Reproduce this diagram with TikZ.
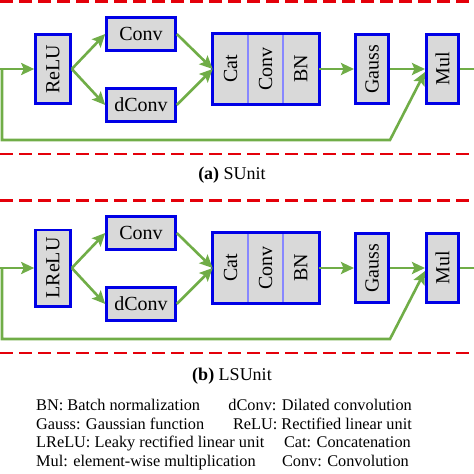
\documentclass[tikz,border=0pt]{standalone}
\usepackage{fontspec}
\setmainfont{Liberation Serif}
\usetikzlibrary{arrows.meta}
\definecolor{boxblue}{RGB}{0,0,230}
\definecolor{linkgreen}{RGB}{112,173,71}
\definecolor{cutred}{RGB}{228,0,10}
\definecolor{boxgray}{RGB}{217,217,217}
\definecolor{seamblue}{RGB}{135,135,255}
\tikzset{
  blk/.style={draw=boxblue,line width=2.6pt,fill=boxgray,inner sep=0pt,font=\fontsize{20}{24}\selectfont},
  seam/.style={blk,draw=seamblue,line width=1.2pt},
  link/.style={draw=linkgreen,line width=2.6pt,-{Stealth[length=13pt,width=12pt,inset=2.5pt]}},
  wire/.style={draw=linkgreen,line width=2.6pt},
  cut/.style={draw=cutred,line width=2.8pt,dash pattern=on 13pt off 6pt},
  key/.style={inner sep=0pt,font=\fontsize{16.3}{19}\selectfont},
}
\def\up#1{\rotatebox{90}{#1}}
% #1 prefix, #2 activation label, #3 activation box height
\def\unitrow#1#2#3{
  \draw[cut] (0,1.5) -- (474,1.5);
  \draw[cut] (0,154) -- (474,154);
  \node[blk,minimum width=35pt,minimum height=#3] (#1act) at (53,69) {\up{#2}};
  \node[blk,minimum width=69pt,minimum height=33pt] (#1conv) at (141,34) {Conv};
  \node[blk,minimum width=69pt,minimum height=33pt] (#1dconv) at (141,105) {dConv};
  \node[seam,minimum width=34.7pt,minimum height=69.4pt] (#1cat) at (230.6,69) {\up{Cat}};
  \node[seam,minimum width=35pt,minimum height=69.4pt] (#1mid) at (265.5,69) {\up{Conv}};
  \node[seam,minimum width=35.7pt,minimum height=69.4pt] (#1bn) at (300.9,69) {\up{BN}};
  \draw[boxblue,line width=2.6pt] (#1cat.north west) rectangle (#1bn.south east);
  \node[blk,minimum width=33.4pt,minimum height=69.4pt] (#1gauss) at (372,69) {\up{Gauss}};
  \node[blk,minimum width=32.4pt,minimum height=69.4pt] (#1mul) at (442.5,69) {\up{Mul}};
  \coordinate (#1in) at (0,69);
  \coordinate (#1tap) at (2,69);
  \coordinate (#1low) at (2,140);
  \coordinate (#1bend) at (390,140);
  \coordinate (#1out) at (474,69);
  \draw[link] (#1in) -- (#1act.west);
  \draw[link] (#1act.east) -- (#1conv.west);
  \draw[link] (#1act.east) -- (#1dconv.west);
  \draw[link] (#1conv.east) -- (#1cat.west);
  \draw[link] (#1dconv.east) -- (#1cat.west);
  \draw[link] (#1bn.east) -- (#1gauss.west);
  \draw[link] (#1gauss.east) -- (#1mul.west);
  \draw[link] (#1tap) -- (#1low) -- (#1bend) -- ([yshift=-3pt]#1mul.west);
  \draw[wire] (#1mul.east) -- (#1out);
}

\begin{document}
\begin{tikzpicture}[x=1pt,y=-1pt]
  \useasboundingbox (0,0) rectangle (474,474);
  \unitrow{s}{ReLU}{69.4pt}
  \node[font=\fontsize{18}{21}\selectfont] (capa) at (232,175) {\textbf{(a)} SUnit};
  \begin{scope}[shift={(0,199)}]
    \unitrow{l}{LReLU}{76.4pt}
  \end{scope}
  \node[font=\fontsize{18}{21}\selectfont] (capb) at (232,376) {\textbf{(b)} LSUnit};
  % legend
  \node[key,anchor=base west] (kbn) at (36,410) {BN: Batch normalization};
  \node[key,anchor=base west] (kgauss) at (36,429) {Gauss: Gaussian function};
  \node[key,anchor=base west] (klrelu) at (36,447) {LReLU: Leaky rectified linear unit};
  \node[key,anchor=base west] (kmul) at (36,466) {Mul: element-wise multiplication};
  \node[key,anchor=base east] (kdconv) at (412,410) {dConv: Dilated convolution};
  \node[key,anchor=base east] (krelu) at (412,429) {ReLU: Rectified linear unit};
  \node[key,anchor=base east] (kcat) at (411,447) {Cat: Concatenation};
  \node[key,anchor=base east] (kconv) at (409,466) {Conv: Convolution};
\end{tikzpicture}
\end{document}
